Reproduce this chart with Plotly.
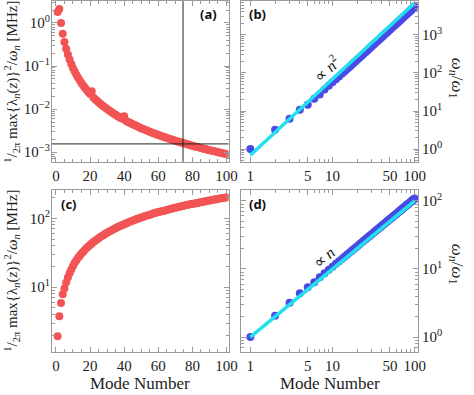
import plotly.graph_objects as go

# ---------------- data ----------------
modes = list(range(1, 101))

# (a) 1/2pi max{lambda_n(z)}^2 / omega_n  [MHz]
coupling_ratio = [
    1.8, 2.1, 1.0, 0.56, 0.36, 0.25, 0.184, 0.141, 0.111, 0.09,
    0.0744, 0.0625, 0.0533, 0.0459, 0.04, 0.0352, 0.0311, 0.0278, 0.0249, 0.0225,
    0.026, 0.0186, 0.017, 0.0156, 0.0144, 0.0133, 0.0123, 0.0115, 0.0107, 0.01,
    0.00937, 0.00879, 0.00826, 0.00779, 0.00735, 0.00694, 0.00657, 0.00623, 0.00592, 0.0068,
    0.00535, 0.0051, 0.00487, 0.00465, 0.00444, 0.00425, 0.00407, 0.00391, 0.00375, 0.0036,
    0.00346, 0.00333, 0.0032, 0.00309, 0.00298, 0.00287, 0.00277, 0.00268, 0.00259, 0.0025,
    0.00242, 0.00234, 0.00227, 0.0022, 0.00213, 0.00207, 0.002, 0.00195, 0.00189, 0.00184,
    0.00179, 0.00174, 0.00169, 0.00164, 0.0016, 0.00156, 0.00152, 0.00148, 0.00144, 0.00141,
    0.00137, 0.00134, 0.00131, 0.00128, 0.00125, 0.00122, 0.00119, 0.00116, 0.00114, 0.00111,
    0.00109, 0.00106, 0.00104, 0.00102, 0.000997, 0.000977, 0.000957, 0.000937, 0.000918, 0.0009,
]

# (b) omega_n / omega_1  (quadratic spectrum)
freq_ratio_quad = [
    1, 3.2, 6.3, 10.8, 14.7, 21, 27, 36.7, 46.1, 56.5,
    68.1, 80.7, 94.5, 109, 125, 142, 160, 180, 200, 222,
    244, 268, 292, 318, 345, 373, 402, 433, 464, 497,
    530, 565, 600, 637, 675, 714, 754, 796, 838, 882,
    926, 972, 1018, 1066, 1115, 1165, 1216, 1269, 1322, 1377,
    1432, 1489, 1546, 1605, 1665, 1726, 1788, 1852, 1916, 1982,
    2048, 2116, 2184, 2254, 2325, 2397, 2470, 2545, 2620, 2697,
    2774, 2853, 2932, 3013, 3095, 3178, 3262, 3348, 3434, 3522,
    3610, 3700, 3790, 3882, 3975, 4069, 4164, 4261, 4358, 4457,
    4556, 4657, 4758, 4861, 4965, 5070, 5176, 5284, 5392, 5502,
]
guide_quad_n = [1, 100]
guide_quad_val = [0.69, 6900]

# (c) 1/2pi max{lambda_n(z)}^2 / omega_n  [MHz]  (linear spectrum)
coupling_ratio_lin = [
    1.95, 3.8, 5.9, 7.9, 9.6, 11.7, 13.8, 16.0, 18.1, 20.3,
    22.6, 24.6, 26.7, 28.7, 30.8, 32.8, 34.9, 36.9, 39.0, 41.0,
    43.1, 45.1, 47.2, 49.2, 51.3, 53.3, 55.4, 57.4, 59.5, 61.5,
    63.6, 65.6, 67.7, 69.7, 71.8, 73.8, 75.9, 77.9, 80.0, 82.0,
    84.1, 86.1, 88.2, 90.2, 92.3, 94.3, 96.4, 98.4, 100.5, 102.5,
    104.6, 106.6, 108.7, 110.7, 112.8, 114.8, 116.9, 118.9, 121.0, 123.0,
    123.8, 125.9, 127.9, 129.9, 132.0, 134.0, 136.0, 138.0, 140.1, 142.1,
    144.1, 146.2, 148.2, 150.2, 152.3, 154.3, 156.3, 158.3, 160.4, 162.4,
    162.8, 164.8, 166.8, 168.8, 170.9, 172.9, 174.9, 176.9, 178.9, 180.9,
    182.9, 184.9, 186.9, 188.9, 191.0, 193.0, 195.0, 197.0, 199.0, 201.0,
]

# (d) omega_n / omega_1  (linear spectrum)
freq_ratio_lin = [
    1, 2.05, 3.2, 4.4, 5.4, 6.4, 7.56, 8.64, 9.72, 10.8,
    11.9, 13.0, 14.0, 15.1, 16.2, 17.3, 18.4, 19.4, 20.5, 21.6,
    22.7, 23.8, 24.8, 25.9, 27.0, 28.1, 29.2, 30.2, 31.3, 32.4,
    33.5, 34.6, 35.6, 36.7, 37.8, 38.9, 40.0, 41.0, 42.1, 43.2,
    44.3, 45.4, 46.4, 47.5, 48.6, 49.7, 50.8, 51.8, 52.9, 54.0,
    55.1, 56.2, 57.2, 58.3, 59.4, 60.5, 61.6, 62.6, 63.7, 64.8,
    65.9, 67.0, 68.0, 69.1, 70.2, 71.3, 72.4, 73.4, 74.5, 75.6,
    76.7, 77.8, 78.8, 79.9, 81.0, 82.1, 83.2, 84.2, 85.3, 86.4,
    87.5, 88.6, 89.6, 90.7, 91.8, 92.9, 94.0, 95.0, 96.1, 97.2,
    98.3, 99.4, 100.4, 101.5, 102.6, 103.7, 104.8, 105.8, 106.9, 108.0,
]
guide_lin_n = [1, 100]
guide_lin_val = [1, 100]

# reference lines in panel (a)
cut_mode = 74.5
cut_level = 0.00155

# tick labels
lin_ticks = [0, 20, 40, 60, 80, 100]
log_x_ticks = [1, 5, 10, 50, 100]
log_x_text = ["1", "5", "10", "50", "100"]

# ---------------- styling ----------------
RED = "#F25454"
BLUE = "#4A4AE6"
CYAN = "#22E0EE"
FRAME = "#9a9a9a"
SERIF = "Liberation Serif"
W, H = 474, 395


def pow_label(e):
    s = str(e).replace("-", "\u2212")
    return f"10<sup>{s}</sup>"


def minor_log(lo, hi):
    vals = []
    for e in range(lo, hi + 1):
        for m in range(2, 10):
            vals.append(m * 10 ** e)
    return vals


fig = go.Figure()

MS = 8
# panel (a)
fig.add_trace(go.Scatter(x=modes, y=coupling_ratio, mode="markers",
                         marker=dict(color=RED, size=MS, line=dict(width=0)),
                         xaxis="x", yaxis="y", showlegend=False))
fig.add_trace(go.Scatter(x=[cut_mode, cut_mode], y=[1e-5, 1e2], mode="lines",
                         line=dict(color="#222222", width=1),
                         xaxis="x", yaxis="y", showlegend=False))
fig.add_trace(go.Scatter(x=[-10, 110], y=[cut_level, cut_level], mode="lines",
                         line=dict(color="#222222", width=1),
                         xaxis="x", yaxis="y", showlegend=False))

# panel (b)
fig.add_trace(go.Scatter(x=modes, y=freq_ratio_quad, mode="markers",
                         marker=dict(color=BLUE, size=MS, line=dict(width=0)),
                         xaxis="x2", yaxis="y2", showlegend=False))
fig.add_trace(go.Scatter(x=guide_quad_n, y=guide_quad_val, mode="lines",
                         line=dict(color=CYAN, width=3.5),
                         xaxis="x2", yaxis="y2", showlegend=False))

# panel (c)
fig.add_trace(go.Scatter(x=modes, y=coupling_ratio_lin, mode="markers",
                         marker=dict(color=RED, size=MS, line=dict(width=0)),
                         xaxis="x3", yaxis="y3", showlegend=False))

# panel (d)
fig.add_trace(go.Scatter(x=modes, y=freq_ratio_lin, mode="markers",
                         marker=dict(color=BLUE, size=MS, line=dict(width=0)),
                         xaxis="x4", yaxis="y4", showlegend=False))
fig.add_trace(go.Scatter(x=guide_lin_n, y=guide_lin_val, mode="lines",
                         line=dict(color=CYAN, width=3.5),
                         xaxis="x4", yaxis="y4", showlegend=False))

dom_left = [53 / W, 233 / W]
dom_right = [246 / W, 426 / W]
dom_top = [1 - 162 / H, 1 - 1 / H]
dom_bot = [1 - 352 / H, 1 - 190 / H]

common = dict(showline=True, linecolor=FRAME, linewidth=1, mirror="allticks",
              ticks="inside", ticklen=5, tickcolor=FRAME, tickwidth=1,
              showgrid=False, zeroline=False,
              tickfont=dict(family=SERIF, size=15, color="#222222"))

lin_x = dict(common, type="linear", range=[-2.3, 101.2], tickvals=lin_ticks,
             ticktext=[str(v) for v in lin_ticks],
             minor=dict(ticks="inside", ticklen=3, tickcolor=FRAME, dtick=5, tick0=0))
log_x = dict(common, type="log", range=[-0.11, 2.04], tickvals=log_x_ticks,
             ticktext=log_x_text,
             minor=dict(ticks="inside", ticklen=3, tickcolor=FRAME,
                        tickvals=[2, 3, 4, 6, 7, 8, 9, 20, 30, 40, 60, 70, 80, 90]))

fig.update_layout(
    width=W, height=H, margin=dict(l=0, r=0, t=0, b=0),
    paper_bgcolor="white", plot_bgcolor="white",
    xaxis=dict(lin_x, domain=dom_left, anchor="y"),
    yaxis=dict(common, type="log", domain=dom_top, anchor="x", range=[-3.23, 0.51],
               tickvals=[1e-3, 1e-2, 1e-1, 1], ticktext=[pow_label(e) for e in [-3, -2, -1, 0]],
               ticklabelstandoff=-2,
               minor=dict(ticks="inside", ticklen=3, tickcolor=FRAME, tickvals=minor_log(-4, 0))),
    xaxis2=dict(log_x, domain=dom_right, anchor="y2"),
    yaxis2=dict(common, type="log", domain=dom_top, anchor="x2", side="right",
                range=[-0.34, 3.89],
                tickvals=[1, 10, 100, 1000], ticktext=[pow_label(e) for e in [0, 1, 2, 3]],
                minor=dict(ticks="inside", ticklen=3, tickcolor=FRAME, tickvals=minor_log(-1, 3))),
    xaxis3=dict(lin_x, domain=dom_left, anchor="y3"),
    yaxis3=dict(common, type="log", domain=dom_bot, anchor="x3", range=[0.06, 2.41],
                tickvals=[10, 100], ticktext=[pow_label(e) for e in [1, 2]],
                ticklabelstandoff=-2,
                minor=dict(ticks="inside", ticklen=3, tickcolor=FRAME, tickvals=minor_log(0, 2))),
    xaxis4=dict(log_x, domain=dom_right, anchor="y4"),
    yaxis4=dict(common, type="log", domain=dom_bot, anchor="x4", side="right",
                range=[-0.22, 2.16],
                tickvals=[1, 10, 100], ticktext=[pow_label(e) for e in [0, 1, 2]],
                minor=dict(ticks="inside", ticklen=3, tickcolor=FRAME, tickvals=minor_log(-1, 2))),
)

ann = []


def add_text(text, px, py, font, angle=0):
    ann.append(dict(text=text, x=px / W, y=1 - py / H, xref="paper", yref="paper",
                    xanchor="center", yanchor="middle", showarrow=False,
                    textangle=angle, font=font))


lbl_font = dict(family="Noto Sans", size=13, color="#111111")
add_text("<b>(a)</b>", 213, 14, lbl_font)
add_text("<b>(b)</b>", 262, 14, lbl_font)
add_text("<b>(c)</b>", 70, 204, lbl_font)
add_text("<b>(d)</b>", 262, 204, lbl_font)

txt_font = dict(family=SERIF, size=16, color="#111111")
add_text("\u221d <i>n</i><sup>2</sup>", 333, 68, txt_font, -42)
add_text("\u221d <i>n</i>", 330, 257, txt_font, -40)

ytitle = ("<sup>1</sup>/<sub>2π</sub> max{λ<sub><i>n</i></sub>(<i>z</i>)}<sup>2</sup>"
          "/<i>ω<sub>n</sub></i> [MHz]")
ttl_font = dict(family=SERIF, size=15, color="#222222")
add_text(ytitle, 12, 82, ttl_font, -90)
add_text(ytitle, 12, 271, ttl_font, -90)

rtitle = "<i>ω<sub>n</sub></i>/<i>ω</i><sub>1</sub>"
rt_font = dict(family=SERIF, size=17, color="#222222")
add_text(rtitle, 465, 78, rt_font, 90)
add_text(rtitle, 465, 264, rt_font, 90)

xt_font = dict(family=SERIF, size=17, color="#222222")
add_text("Mode Number", (53 + 233) / 2, 383, xt_font)
add_text("Mode Number", (246 + 426) / 2, 383, xt_font)

fig.update_layout(annotations=ann)

fig.write_html("out.html", config={"displayModeBar": False},
               post_script="document.body.style.margin='0';")
